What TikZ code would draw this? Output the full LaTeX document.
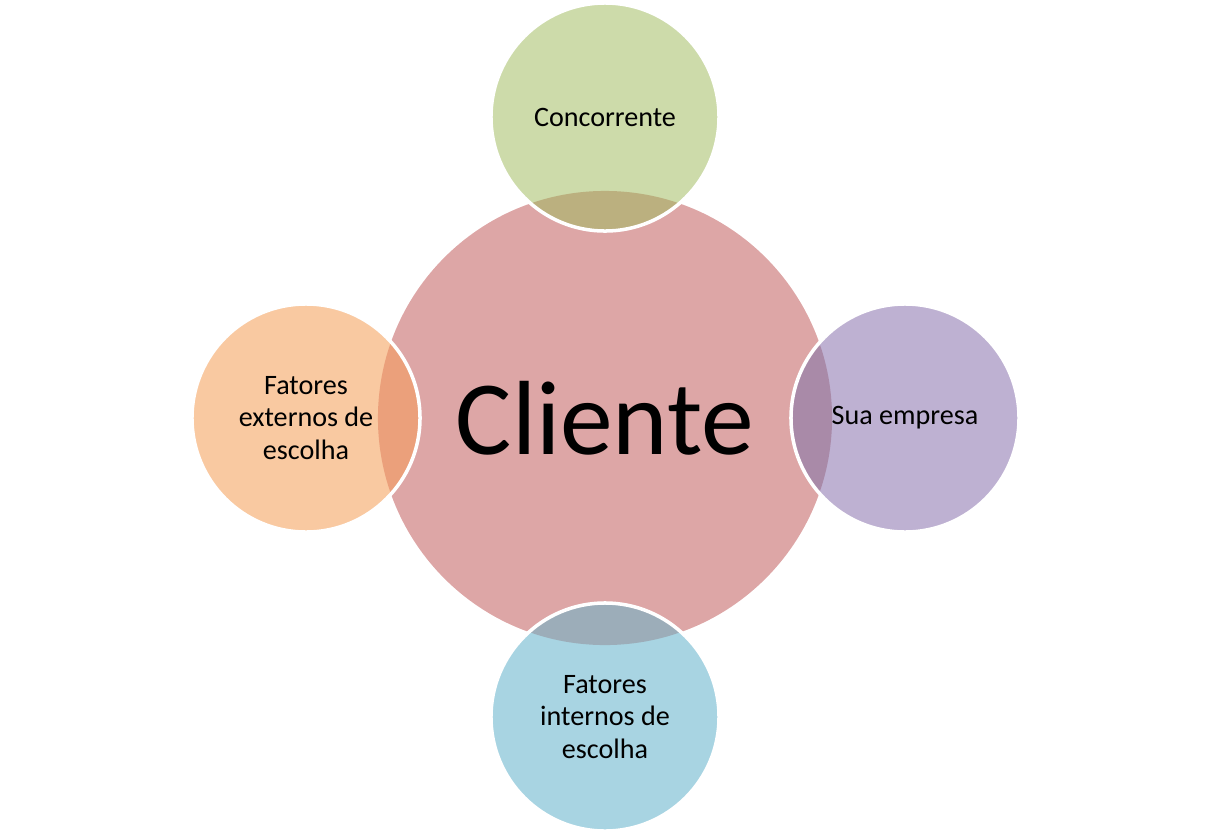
\documentclass[tikz,border=0pt]{standalone}
\usepackage{fontspec}
\setmainfont{Carlito}
\usetikzlibrary{positioning}
\definecolor{clientered}{HTML}{DDA6A6}
\definecolor{concgreen}{HTML}{CDDBAA}
\definecolor{concdark}{HTML}{BBB07F}
\definecolor{suapurple}{HTML}{BEB1D2}
\definecolor{suadark}{HTML}{A98AA8}
\definecolor{extorange}{HTML}{F9C9A1}
\definecolor{extdark}{HTML}{EBA07B}
\definecolor{intblue}{HTML}{A8D4E2}
\definecolor{intdark}{HTML}{9CADB9}
\tikzset{every picture/.style={label font=\fontsize{20}{23}},
         label font/.style={execute at begin picture={#1\selectfont}},
         bubble/.style={circle, minimum size=5.7cm, inner sep=0pt, draw=white, line width=2.5pt, align=center},
         overlap/.style={path picture={\fill [#1] (cliente.center) circle [radius=5.675cm];}}
        }
\begin{document}
\begin{tikzpicture}[x=0.025cm, y=-0.025cm]
        \useasboundingbox (0,0) rectangle (1211,836);
        \node [circle, fill=clientered, minimum size=11.35cm, inner sep=0pt, font=\fontsize{75}{90}\selectfont] (cliente) at (605,418) {Cliente};
        \node [bubble, fill=concgreen, overlap=concdark] (concorrente) at (605,117) {Concorrente};
        \node [bubble, fill=suapurple, overlap=suadark] (empresa) at (905,418) {Sua empresa};
        \node [bubble, fill=extorange, overlap=extdark] (externos) at (306,418) {Fatores\\externos de\\escolha};
        \node [bubble, fill=intblue, overlap=intdark] (internos) at (605,717) {Fatores\\internos de\\escolha};
      \end{tikzpicture}
\end{document}
